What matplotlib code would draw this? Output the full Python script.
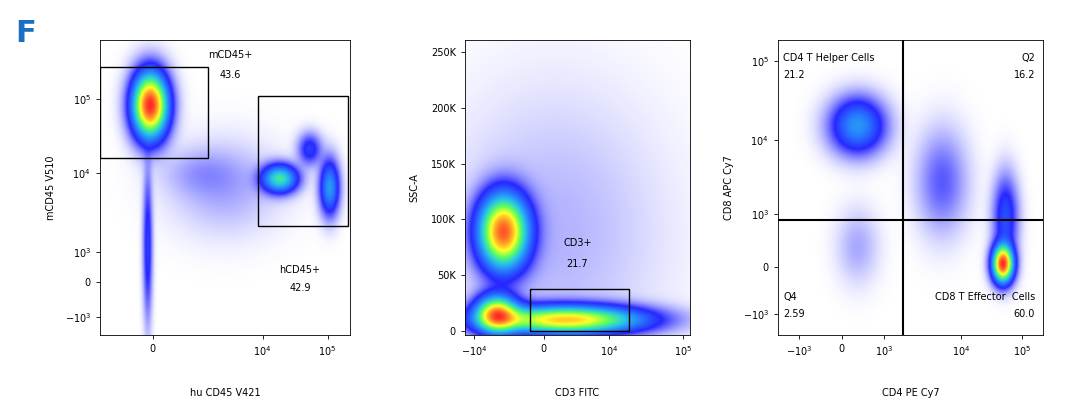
import numpy as np
import matplotlib
matplotlib.use("Agg")
import matplotlib.pyplot as plt
from matplotlib.colors import LinearSegmentedColormap
from matplotlib.patches import Rectangle

# ---- data: populations (x_frac, y_frac, sd_x, sd_y, weight)
pop1 = [(0.20, 0.78, 0.045, 0.07, 1.0), (0.19, 0.30, 0.012, 0.16, 0.15),
        (0.72, 0.53, 0.045, 0.03, 0.45), (0.92, 0.50, 0.025, 0.06, 0.3),
        (0.84, 0.63, 0.03, 0.035, 0.15), (0.50, 0.50, 0.14, 0.10, 0.04),
        (0.40, 0.55, 0.10, 0.05, 0.03)]
pop2 = [(0.17, 0.35, 0.07, 0.08, 0.55), (0.45, 0.05, 0.22, 0.03, 0.45),
        (0.14, 0.07, 0.06, 0.04, 0.45), (0.40, 0.35, 0.3, 0.3, 0.02)]
pop3 = [(0.30, 0.71, 0.065, 0.06, 0.3), (0.85, 0.24, 0.025, 0.04, 1.0),
        (0.86, 0.40, 0.03, 0.09, 0.18), (0.62, 0.52, 0.06, 0.11, 0.09),
        (0.30, 0.30, 0.05, 0.08, 0.04)]
# tick positions (axes fractions) and labels
x1_ticks = [0.21, 0.65, 0.91]; x1_lab = ["0", "$10^4$", "$10^5$"]
y1_ticks = [0.06, 0.18, 0.28, 0.55, 0.80]; y1_lab = ["$-10^3$", "0", "$10^3$", "$10^4$", "$10^5$"]
x2_ticks = [0.04, 0.35, 0.64, 0.97]; x2_lab = ["$-10^4$", "0", "$10^4$", "$10^5$"]
y2_vals = [0, 50, 100, 150, 200, 250]; y2_lab = ["0", "50K", "100K", "150K", "200K", "250K"]
x3_ticks = [0.08, 0.24, 0.40, 0.69, 0.92]; x3_lab = ["$-10^3$", "0", "$10^3$", "$10^4$", "$10^5$"]
y3_ticks = [0.07, 0.23, 0.41, 0.66, 0.93]; y3_lab = ["$-10^3$", "0", "$10^3$", "$10^4$", "$10^5$"]

cmap = LinearSegmentedColormap.from_list("flow", ["#0000ff", "#0060ff", "#00c0e0", "#40ff40", "#ffff00", "#ff8000", "#ff0000"])

def density(ax, pops):
    g = np.linspace(0, 1, 300)
    X, Y = np.meshgrid(g, g)
    D = np.zeros_like(X)
    for cx, cy, sx, sy, w in pops:
        D += w * np.exp(-0.5 * (((X - cx) / sx) ** 2 + ((Y - cy) / sy) ** 2))
    D = D / D.max()
    rgba = cmap(np.clip((D - 0.12) / 0.88, 0, 1) ** 0.9)
    rgba[..., 3] = np.clip(D / 0.12, 0, 1) ** 0.8 * 0.85
    ax.imshow(rgba, extent=(0, 1, 0, 1), origin="lower", aspect="auto",
              transform=ax.transAxes, interpolation="bilinear", zorder=1)

fig = plt.figure(figsize=(10.76, 4.0), dpi=100)
W, H = 1076, 400
def mk(x0, x1, y0, y1):
    return fig.add_axes([x0 / W, 1 - y1 / H, (x1 - x0) / W, (y1 - y0) / H])

fs = 7
ax1 = mk(100, 350, 40, 335)
ax2 = mk(465, 690, 40, 335)
ax3 = mk(778, 1043, 40, 335)

for ax in (ax1, ax3):
    ax.set_xlim(0, 1); ax.set_ylim(0, 1)
ax2.set_xlim(0, 1); ax2.set_ylim(-4, 261)

density(ax1, pop1); density(ax2, pop2); density(ax3, pop3)

ax1.set_xticks(x1_ticks, x1_lab); ax1.set_yticks(y1_ticks, y1_lab)
ax2.set_xticks(x2_ticks, x2_lab); ax2.set_yticks(y2_vals, y2_lab)
ax3.set_xticks(x3_ticks, x3_lab); ax3.set_yticks(y3_ticks, y3_lab)
for ax in (ax1, ax2, ax3):
    ax.tick_params(labelsize=fs, length=3, width=0.6)
    for s in ax.spines.values():
        s.set_linewidth(0.6)

ax1.add_patch(Rectangle((0, 0.60), 0.43, 0.31, fill=False, lw=1, transform=ax1.transAxes, zorder=3))
ax1.add_patch(Rectangle((0.63, 0.37), 0.36, 0.44, fill=False, lw=1, transform=ax1.transAxes, zorder=3))
ax2.add_patch(Rectangle((0.29, 0), 0.44, 37, fill=False, lw=1, zorder=3))
ax3.axvline(0.47, color="black", lw=1.5, zorder=3)
ax3.axhline(0.39, color="black", lw=1.5, zorder=3)

t = dict(fontsize=fs, zorder=4)
ax1.text(0.52, 0.94, "mCD45+", transform=ax1.transAxes, ha="center", **t)
ax1.text(0.52, 0.87, "43.6", transform=ax1.transAxes, ha="center", **t)
ax1.text(0.80, 0.21, "hCD45+", transform=ax1.transAxes, ha="center", **t)
ax1.text(0.80, 0.15, "42.9", transform=ax1.transAxes, ha="center", **t)
ax1.set_xlabel("hu CD45 V421", fontsize=fs, labelpad=22)
ax1.set_ylabel("mCD45 V510", fontsize=fs, labelpad=6)

ax2.text(0.50, 0.30, "CD3+", transform=ax2.transAxes, ha="center", **t)
ax2.text(0.50, 0.23, "21.7", transform=ax2.transAxes, ha="center", **t)
ax2.set_xlabel("CD3 FITC", fontsize=fs, labelpad=22)
ax2.set_ylabel("SSC-A", fontsize=fs, labelpad=8)

ax3.text(0.02, 0.93, "CD4 T Helper Cells", transform=ax3.transAxes, ha="left", **t)
ax3.text(0.02, 0.87, "21.2", transform=ax3.transAxes, ha="left", **t)
ax3.text(0.97, 0.93, "Q2", transform=ax3.transAxes, ha="right", **t)
ax3.text(0.97, 0.87, "16.2", transform=ax3.transAxes, ha="right", **t)
ax3.text(0.02, 0.12, "Q4", transform=ax3.transAxes, ha="left", **t)
ax3.text(0.02, 0.06, "2.59", transform=ax3.transAxes, ha="left", **t)
ax3.text(0.97, 0.12, "CD8 T Effector  Cells", transform=ax3.transAxes, ha="right", **t)
ax3.text(0.97, 0.06, "60.0", transform=ax3.transAxes, ha="right", **t)
ax3.set_xlabel("CD4 PE Cy7", fontsize=fs, labelpad=22)
ax3.set_ylabel("CD8 APC Cy7", fontsize=fs, labelpad=6)

fig.text(15 / W, 1 - 42 / H, "F", fontsize=22, fontweight="bold", color="#1a6fc4")

fig.savefig("out.png", dpi=100)
